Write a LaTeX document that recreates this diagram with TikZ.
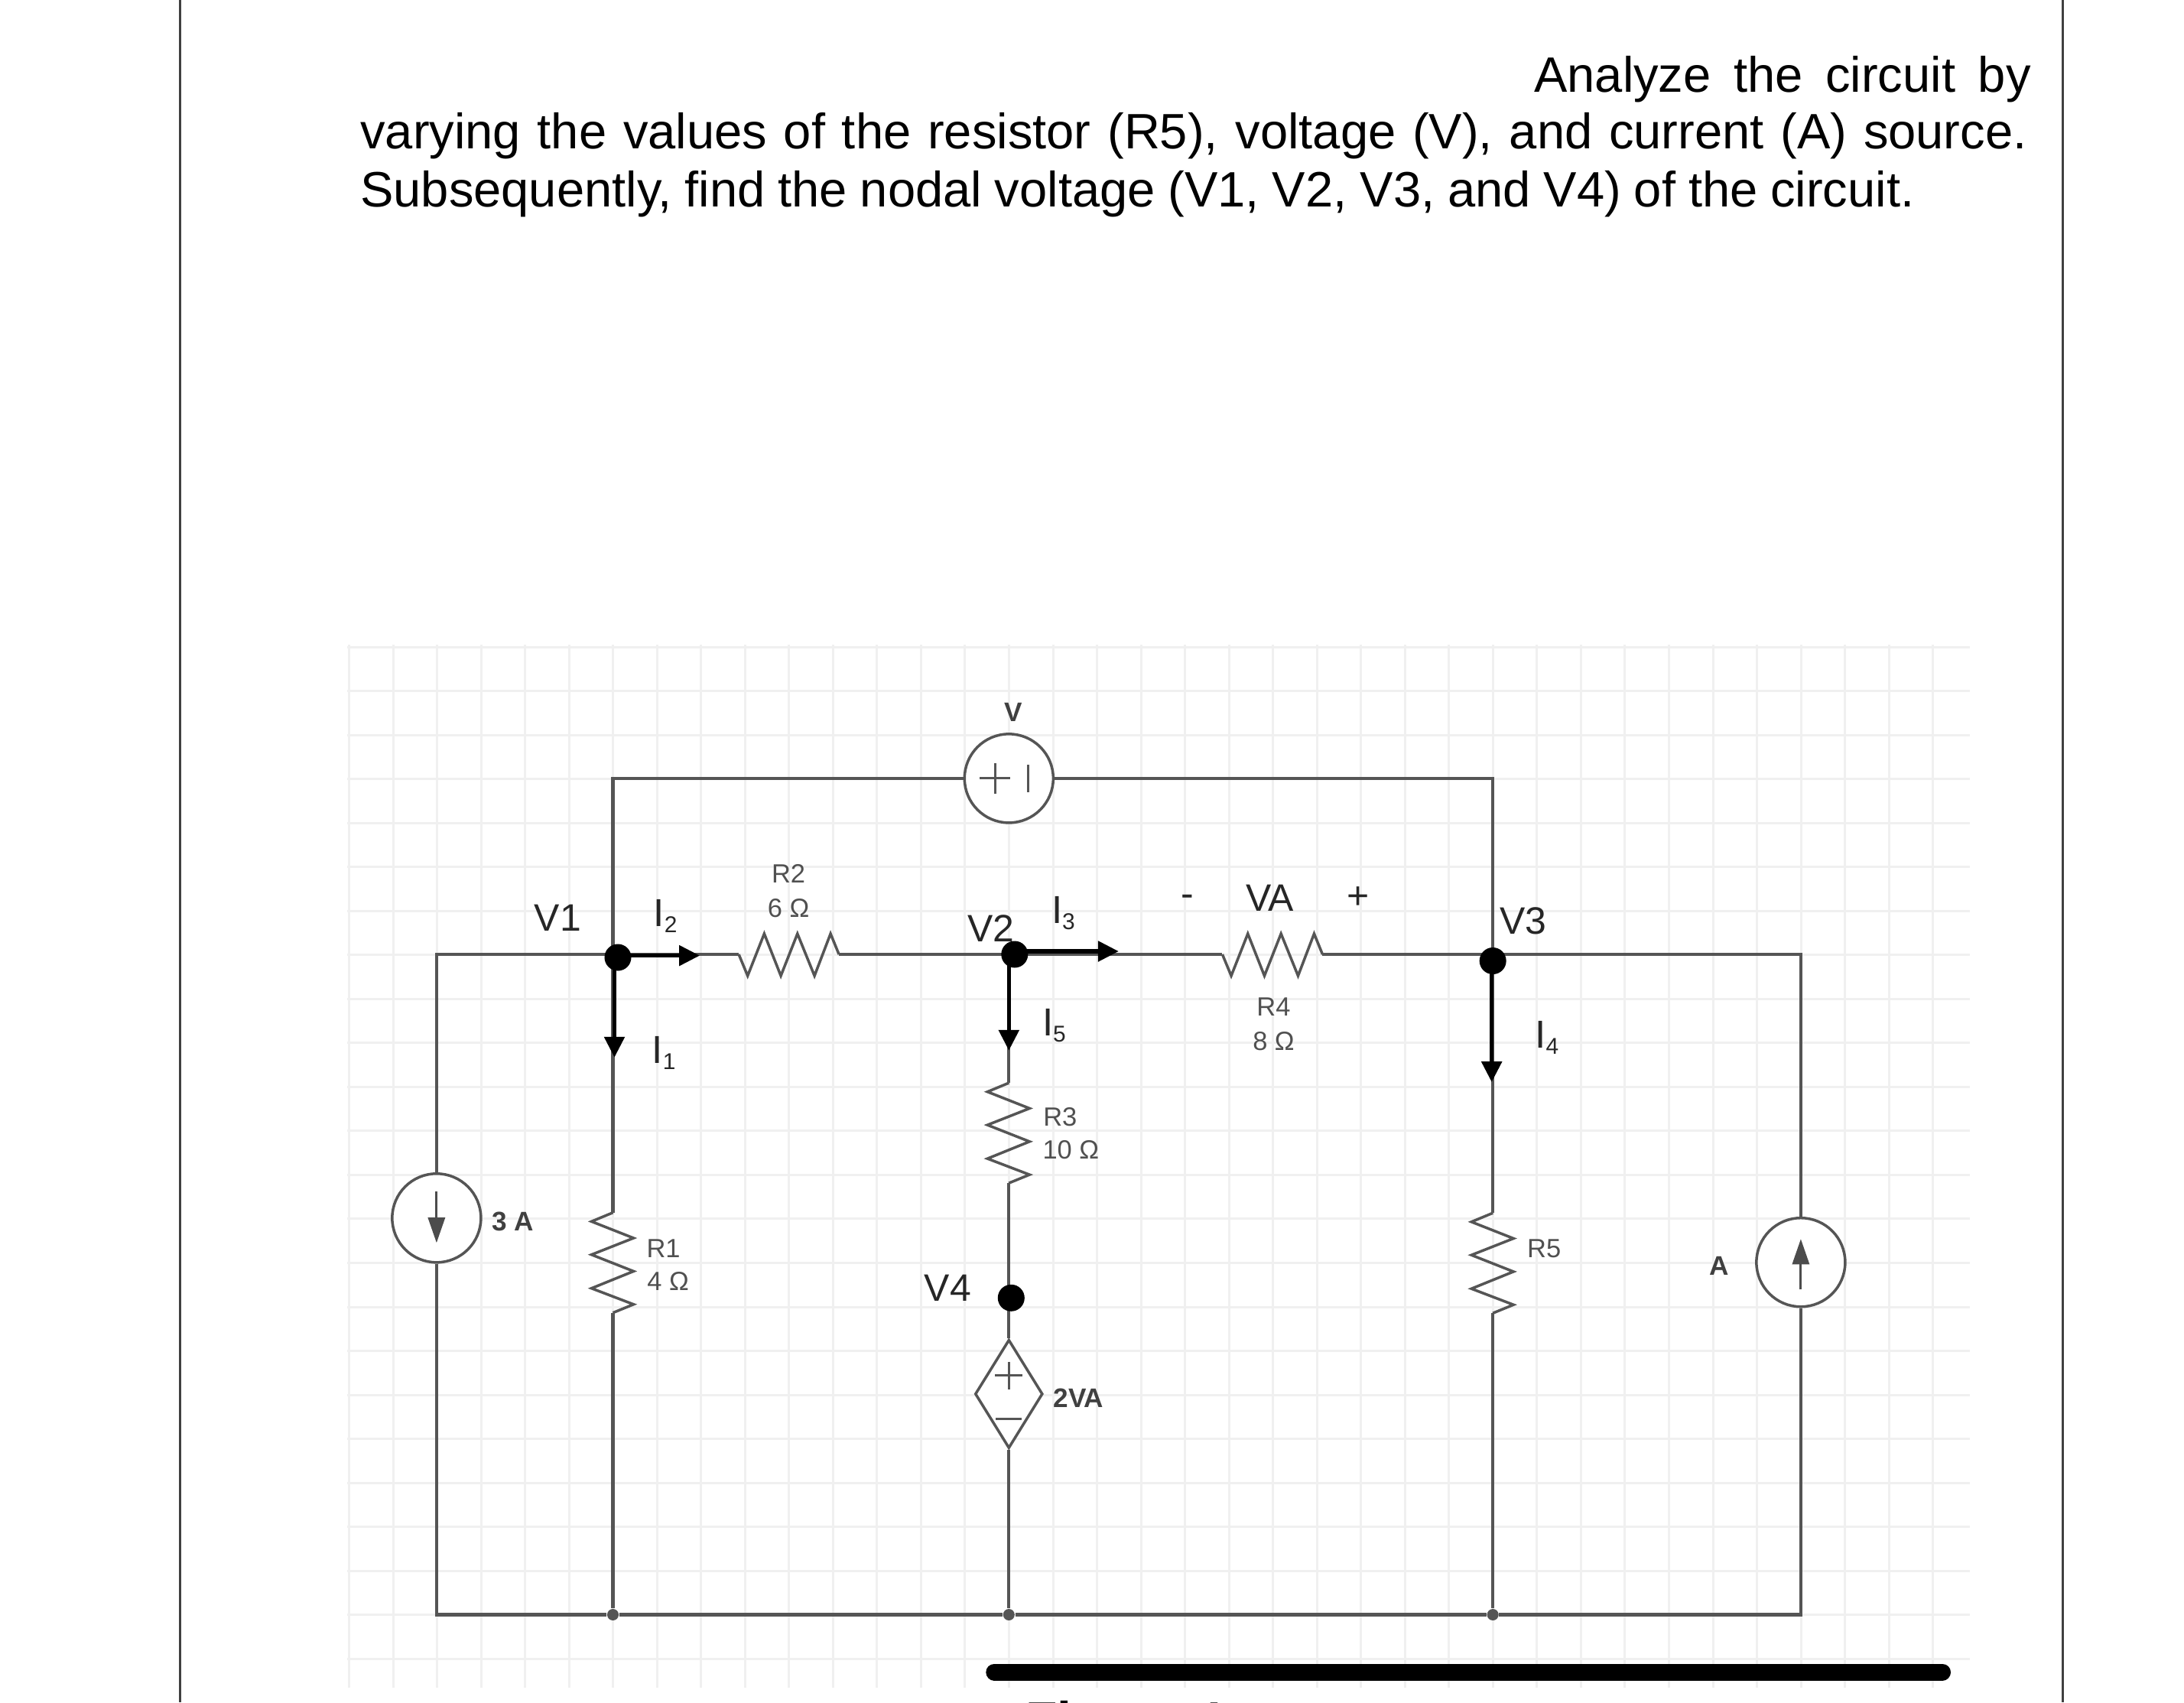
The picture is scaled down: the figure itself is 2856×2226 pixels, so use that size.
\documentclass[tikz,border=0pt]{standalone}
\usepackage{fontspec}
\setmainfont{Liberation Sans}
\usetikzlibrary{positioning,arrows.meta,shapes.geometric}
\definecolor{wiregray}{HTML}{555555}
\definecolor{labelgray}{HTML}{505050}
\definecolor{gridgray}{HTML}{F0F0F0}
\newcommand{\isub}[1]{I\textsubscript{\fontsize{8.5}{9}\selectfont #1}}

\begin{document}
\begin{tikzpicture}[
                    x=0.01cm, y=-0.01cm, on grid,
                    wire/.style={draw=wiregray, line width=0.042cm},
                    frameline/.style={draw=black!75, line width=0.03cm},
                    gridline/.style={draw=gridgray, line width=0.03cm},
                    currentarrow/.style={draw=black, line width=0.055cm, -{Triangle[length=0.27cm,width=0.26cm]}},
                    sourcearrow/.style={draw=black!70, line width=0.03cm, -{Triangle[length=0.33cm,width=0.22cm]}},
                    signline/.style={draw=wiregray, line width=0.03cm},
                    sourcenode/.style={circle, draw=wiregray, fill=white, line width=0.035cm, minimum size=1.16cm, inner sep=0pt},
                    depnode/.style={diamond, draw=wiregray, fill=white, line width=0.035cm, minimum width=0.885cm, minimum height=1.42cm, inner sep=0pt},
                    pointnode/.style={inner sep=0pt, outer sep=0pt, minimum size=0pt},
                    bigdot/.style={circle, fill=black, minimum size=0.35cm, inner sep=0pt},
                    smalldot/.style={circle, fill=wiregray, minimum size=0.15cm, inner sep=0pt},
                    titleline/.style={inner sep=0pt, text height=0.5cm, text depth=0.15cm, font=\fontsize{18.5}{20}\selectfont},
                    voltlabel/.style={inner sep=0pt, text=black!85, font=\fontsize{14.2}{16}\selectfont},
                    currentlabel/.style={inner sep=0pt, text=black!85, font=\fontsize{14.5}{16}\selectfont},
                    partlabel/.style={inner sep=0pt, text=labelgray, font=\fontsize{9.8}{12}\selectfont},
                    sourcelabel/.style={inner sep=0pt, text=black!75, font=\fontsize{10}{12}\selectfont\bfseries},
                    resistor/.pic={
                        \coordinate (-a) at (0,0);
                        \coordinate (-b) at (131,0);
                        \draw[signline, line width=0.035cm] (-a) -- (11.6,28) -- (33.3,-27) -- (55,28) -- (76.7,-27) -- (99,28) -- (120,-27) -- (-b);
                    }
                ]
                    % page and frame
                    \path[use as bounding box, fill=white] (0,0) rectangle (2856,2226);
                    \begin{scope}[shift={(456.5,846)}]
                        \draw[gridline, step=0.575cm] (-2.5,-3) grid (2119.5,1361);
                    \end{scope}
                    \draw[frameline] (235,0) -- (235,2226);
                    \draw[frameline] (2697,0) -- (2697,2226);

                    % text at the top
                    \node[titleline] (linetwo) at (1561,176.5) {\makebox[21.78cm][s]{varying the values of the resistor (R5), voltage (V), and current (A) source.}};
                    \node[titleline] (lineone) [above right=0.735cm and 7.695cm of linetwo] {\makebox[6.49cm][s]{Analyze the circuit by}};
                    \node[titleline] (linethree) [below left=0.76cm and 0.735cm of linetwo] {\makebox[20.31cm][s]{Subsequently, find the nodal voltage (V1, V2, V3, and V4) of the circuit.}};

                    % junctions
                    \node[pointnode] (j1) at (801.5,1248) {};
                    \node[pointnode] (j2) [right=5.175cm of j1] {};
                    \node[pointnode] (j3) [right=6.325cm of j2] {};
                    \node[smalldot] (botone) [below=8.63cm of j1] {};
                    \node[smalldot] (bottwo) [below=8.63cm of j2] {};
                    \node[smalldot] (botthree) [below=8.63cm of j3] {};

                    % sources
                    \node[sourcenode] (vsrc) [above=2.3cm of j2] {};
                    \node[sourcenode] (threeasrc) [below left=3.446cm and 2.305cm of j1] {};
                    \node[sourcenode] (asrc) [below right=4.025cm and 4.025cm of j3] {};
                    \node[depnode] (depsrc) [below=5.745cm of j2] {};

                    % resistors
                    \pic (rone) at ([yshift=-3.375cm]j1) [rotate=-90] {resistor};
                    \pic (rtwo) at ([xshift=1.645cm]j1) {resistor};
                    \pic (rthree) at ([yshift=-1.68cm]j2) [rotate=-90] {resistor};
                    \pic (rfour) at ([xshift=2.79cm]j2) {resistor};
                    \pic (rfive) at ([yshift=-3.38cm]j3) [rotate=-90] {resistor};

                    % wires
                    \draw[wire] (threeasrc.north) |- (j1);
                    \draw[wire] (j1) -- (rtwo-a);
                    \draw[wire] (rtwo-b) -- (j2);
                    \draw[wire] (j2) -- (rfour-a);
                    \draw[wire] (rfour-b) -- (j3);
                    \draw[wire] (j3) -| (asrc.north);
                    \draw[wire] (j1) |- (vsrc.west);
                    \draw[wire] (vsrc.east) -| (j3);
                    \draw[wire] (j1) -- (rone-a);
                    \draw[wire] (rone-b) -- (botone);
                    \draw[wire] (j2) -- (rthree-a);
                    \draw[wire] (rthree-b) -- (depsrc.north);
                    \draw[wire] (depsrc.south) -- (bottwo);
                    \draw[wire] (j3) -- (rfive-a);
                    \draw[wire] (rfive-b) -- (botthree);
                    \draw[wire] (threeasrc.south) |- (botone);
                    \draw[wire] (botone) -- (bottwo);
                    \draw[wire] (bottwo) -- (botthree);
                    \draw[wire] (botthree) -| (asrc.south);

                    % dots go over the wires
                    \node[bigdot] (vonedot) [below right=0.04cm and 0.065cm of j1] {};
                    \node[bigdot] (vtwodot) [right=0.075cm of j2] {};
                    \node[bigdot] (vthreedot) [below=0.085cm of j3] {};
                    \node[bigdot] (vfourdot) [below right=4.49cm and 0.03cm of j2] {};

                    % signs inside the sources
                    \draw[signline] ([xshift=-0.38cm]vsrc.center) -- ([xshift=0.02cm]vsrc.center);
                    \draw[signline] ([xshift=-0.18cm,yshift=0.2cm]vsrc.center) -- ([xshift=-0.18cm,yshift=-0.2cm]vsrc.center);
                    \draw[signline] ([xshift=0.25cm,yshift=0.18cm]vsrc.center) -- ([xshift=0.25cm,yshift=-0.18cm]vsrc.center);
                    \draw[signline] ([xshift=-0.18cm,yshift=0.24cm]depsrc.center) -- ([xshift=0.18cm,yshift=0.24cm]depsrc.center);
                    \draw[signline] ([yshift=0.42cm]depsrc.center) -- ([yshift=0.06cm]depsrc.center);
                    \draw[signline] ([xshift=-0.17cm,yshift=-0.33cm]depsrc.center) -- ([xshift=0.17cm,yshift=-0.33cm]depsrc.center);
                    \draw[sourcearrow] ([yshift=0.346cm]threeasrc.center) -- ([yshift=-0.324cm]threeasrc.center);
                    \draw[sourcearrow] ([yshift=-0.355cm]asrc.center) -- ([yshift=0.305cm]asrc.center);

                    % current arrows
                    \coordinate[below right=0.016cm and 1.135cm of j1] (itwotip);
                    \coordinate[below right=1.347cm and 0.02cm of j1] (ionetip);
                    \coordinate[above right=0.04cm and 1.435cm of j2] (ithreetip);
                    \coordinate[below=1.257cm of j2] (ifivetip);
                    \coordinate[below left=1.67cm and 0.015cm of j3] (ifourtip);
                    \draw[currentarrow] (itwotip -| vonedot) -- (itwotip);
                    \draw[currentarrow] (vonedot -| ionetip) -- (ionetip);
                    \draw[currentarrow] (ithreetip -| vtwodot) -- (ithreetip);
                    \draw[currentarrow] (j2) -- (ifivetip);
                    \draw[currentarrow] (vthreedot -| ifourtip) -- (ifourtip);

                    % labels
                    \node[voltlabel] (vone) [above left=0.475cm and 0.72cm of j1] {V1};
                    \node[voltlabel] (vtwo) [above left=0.34cm and 0.235cm of j2] {V2};
                    \node[voltlabel] (vthree) [above right=0.44cm and 0.4cm of j3] {V3};
                    \node[voltlabel] (vfour) [above left=0.125cm and 0.83cm of vfourdot] {V4};
                    \node[voltlabel] (vacross) [above left=0.74cm and 2.915cm of j3] {VA};
                    \node[voltlabel] (vaminus) [below left=0.04cm and 1.08cm of vacross] {-};
                    \node[voltlabel] (vaplus) [right=1.16cm of vacross] {+};
                    \node[currentlabel] (ione) [below right=1.29cm and 0.675cm of j1] {\isub{1}};
                    \node[currentlabel] (itwo) [above right=0.5cm and 0.695cm of j1] {\isub{2}};
                    \node[currentlabel] (ithree) [above right=0.54cm and 0.72cm of j2] {\isub{3}};
                    \node[currentlabel] (ifour) [below right=1.09cm and 0.715cm of j3] {\isub{4}};
                    \node[currentlabel] (ifive) [below right=0.93cm and 0.6cm of j2] {\isub{5}};
                    \node[partlabel] (ronename) [below right=3.845cm and 0.66cm of j1] {R1};
                    \node[partlabel] (roneval) [below right=0.43cm and 0.06cm of ronename] {4 Ω};
                    \node[partlabel] (rtwoname) [above right=1.05cm and 2.295cm of j1] {R2};
                    \node[partlabel] (rtwoval) [below=0.45cm of rtwoname] {6 Ω};
                    \node[partlabel] (rthreename) [below right=2.125cm and 0.67cm of j2] {R3};
                    \node[partlabel] (rthreeval) [below right=0.425cm and 0.14cm of rthreename] {10 Ω};
                    \node[partlabel] (rfourname) [below left=0.69cm and 2.865cm of j3] {R4};
                    \node[partlabel] (rfourval) [below=0.45cm of rfourname] {8 Ω};
                    \node[partlabel] (rfivename) [below right=3.85cm and 0.67cm of j3] {R5};
                    \node[sourcelabel] (vsrclabel) [above right=0.865cm and 0.06cm of vsrc] {V};
                    \node[sourcelabel] (threealabel) [below right=0.05cm and 1cm of threeasrc] {3 A};
                    \node[sourcelabel] (asrclabel) [below left=0.045cm and 1.07cm of asrc] {A};
                    \node[sourcelabel] (depsrclabel) [below right=0.05cm and 0.91cm of depsrc] {2VA};

                    % bar at the bottom
                    \node[pointnode] (barleft) [below left=0.75cm and 0.19cm of bottwo] {};
                    \node[pointnode] (barright) [right=12.39cm of barleft] {};
                    \draw[line width=0.22cm, line cap=round] (barleft) -- (barright);
                    \node[titleline] (figlabel) [below right=0.69cm and 1.73cm of barleft] {\fontsize{19.3}{24}\selectfont\bfseries Figure 1};
                \end{tikzpicture}
\end{document}
